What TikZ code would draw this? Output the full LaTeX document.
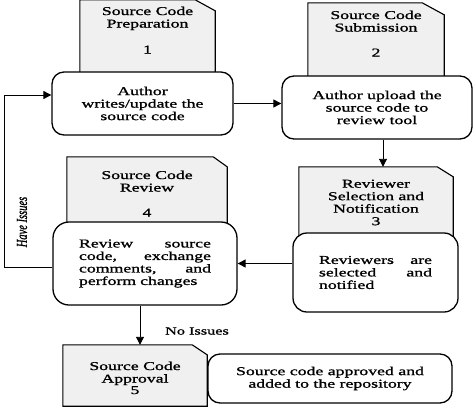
\documentclass[tikz,border=0pt]{standalone}
\usepackage{fontspec}
\setmainfont{Liberation Serif}[FakeStretch=1.48, FakeBold=1.2]
\newfontfamily\plainserif{Liberation Serif}[FakeBold=1.2]
\usepackage{tikz}
\usetikzlibrary{calc}
\usetikzlibrary{positioning}
\usetikzlibrary{arrows.meta}

\begin{document}
\begin{tikzpicture}[x=1pt, y=-1pt,
    stagecard/.style={rectangle, inner sep=0pt},
    cardline/.style={draw=black, line width=1.1pt, fill=gray!12},
    stagetitle/.style={anchor=north, align=center, inner sep=0pt,
      font=\fontsize{12}{12.5}\selectfont},
    stagebox/.style={draw, line width=1.3pt, rounded corners=12pt, fill=white,
      align=center, inner sep=0pt, font=\fontsize{12}{12.5}\selectfont},
    flow/.style={line width=0.9pt, -{Triangle[length=8pt, width=8pt]}},
    note/.style={inner sep=0pt, font=\fontsize{11}{12}\selectfont}]

    \useasboundingbox (0, 0) rectangle (474, 408);

    % cards
    \node [stagecard, minimum width=135pt, minimum height=80pt] (card1) at (147.5, 40) {};
    \node [stagecard, minimum width=136pt, minimum height=81pt] (card2) at (376, 43.5) {};
    \node [stagecard, minimum width=154pt, minimum height=73pt] (card3) at (376, 203.5) {};
    \node [stagecard, minimum width=160pt, minimum height=73pt] (card4) at (147, 193.5) {};
    \node [stagecard, minimum width=144pt, minimum height=61pt] (card5) at (135, 375.5) {};
    \foreach \c/\dx/\dy in {card1/20/11, card2/22/12, card3/16/10, card4/14/10, card5/15/10} {
      \filldraw [cardline] (\c.south west) -- (\c.north west)
      -- ($(\c.north east)+(-\dx, 0)$) -- ($(\c.north east)+(0, \dy)$)
      -- (\c.south east) -- cycle;
    }

    % stage 1
    \node [stagetitle] (title1) at (147.5, 6.5) {Source Code\\Preparation\\[13.5pt]1};
    \node [stagebox, minimum width=181pt, minimum height=63pt] (box1) at (142.5, 103.5)
      {Author\\writes/update the\\source code};

    % stage 2
    \node [stagetitle] (title2) at (376, 10.5) {Source Code\\Submission\\[12.5pt]2};
    \node [stagebox, minimum width=190pt, minimum height=63pt] (box2) at (377, 107.5)
      {Author upload the\\source code to\\review tool};

    % stage 3
    \node [stagetitle] (title3) at (376, 179.5) {Reviewer\\Selection and\\Notification\\3};
    \node [stagebox, minimum width=165pt, minimum height=79pt, rounded corners=14pt,
      text width=113pt, align=left] (box3) at (375.5, 272.5)
      {Reviewers\hfill are\\selected\hfill and\\notified};

    % stage 4
    \node [stagetitle] (title4) at (147, 170.5) {Source Code\\Review\\[12.5pt]4};
    \node [stagebox, minimum width=184pt, minimum height=83pt, rounded corners=16pt,
      text width=132pt, align=left] (box4) at (145, 263.5)
      {Review\hfill source\\code,\hfill exchange\\comments,\hfill and\\perform changes};

    % stage 5
    \node [stagetitle] (title5) at (135, 361.5) {Source Code\\Approval\\[-1pt]5};
    \node [stagebox, minimum width=244pt, minimum height=49pt] (box5) at (330, 378.5)
      {Source code approved and\\added to the repository};

    % flow
    \draw [flow] (box1.east) -- (box1.east -| box2.west);
    \coordinate (down2) at ($(box2.south)+(6, 0)$);
    \draw [flow] (down2) -- (down2 |- card3.north);
    \draw [flow] (box3.west |- box4.east) -- (box4.east);
    \coordinate (down4) at ($(box4.south)+(-5, 0)$);
    \draw [flow] (down4) -- (down4 |- card5.north);
    \node [note] (noissues) at (197, 331) {No Issues};

    % back to the author
    \coordinate (back) at (4, 95);
    \draw [flow] ($(box4.west)+(0, 3.5)$) -| (back) -- ($(box1.west)+(0, -8.5)$);
    \node [inner sep=0pt, rotate=90] (haveissues) at (22, 222)
      {\scalebox{1}[1.45]{\plainserif\fontsize{10.5}{12}\selectfont\itshape Have Issues}};

\end{tikzpicture}
\end{document}
